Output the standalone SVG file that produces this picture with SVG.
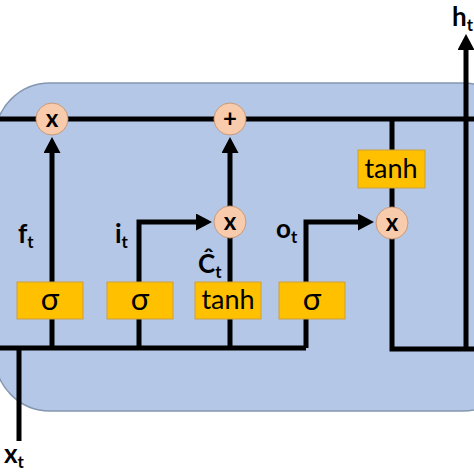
<svg xmlns="http://www.w3.org/2000/svg" width="474" height="474" viewBox="0 0 474 474">
<style>
.bg{fill:#b4c7e7;stroke:#8497b0;stroke-width:1.5}
.ln{fill:none;stroke:#000;stroke-width:5}
.op{fill:#f8cbad;stroke:#c99a78;stroke-width:1}
.bx{fill:#ffc000;stroke:#c9a040;stroke-width:1}
.ot{font-family:Lato,"Liberation Sans",sans-serif;font-weight:bold;font-size:24px;text-anchor:middle;fill:#000}
.bt{font-family:Lato,"Liberation Sans",sans-serif;font-size:27px;text-anchor:middle;fill:#000}
.sg{font-size:31px}
.lb{font-family:Lato,"Liberation Sans",sans-serif;font-weight:bold;font-size:26px;fill:#000}
.sb{font-size:17px}
</style>
<defs>
<marker id="ah" markerUnits="userSpaceOnUse" markerWidth="17" markerHeight="18" refX="1" refY="8.5" orient="auto">
<path d="M0,0 L16,8.5 L0,17 z" fill="#000"/>
</marker>
</defs>
<rect class="bg" x="-5" y="83" width="523" height="328" rx="55"/>
<g id="connectors">
<path class="ln" d="M0,119 H474"/>
<path class="ln" d="M19,441 V348"/>
<path class="ln" d="M0,348 H306"/>
<path class="ln" d="M52,348 V152" marker-end="url(#ah)"/>
<path class="ln" d="M139,348 V222 H197" marker-end="url(#ah)"/>
<path class="ln" d="M230,348 V222"/>
<path class="ln" d="M230,230 V152" marker-end="url(#ah)"/>
<path class="ln" d="M306,348 V222 H359" marker-end="url(#ah)"/>
<path class="ln" d="M392,119 V349 H474"/>
<path class="ln" d="M466,349 V49" marker-end="url(#ah)"/>
</g>
<g id="forget-mult"><circle class="op" cx="52" cy="119" r="16"/><text class="ot" x="52" y="127">x</text></g>
<g id="cell-add"><circle class="op" cx="230" cy="119" r="16"/><text class="ot" x="230" y="127">+</text></g>
<g id="input-mult"><circle class="op" cx="230" cy="222" r="16"/><text class="ot" x="230" y="230">x</text></g>
<g id="output-mult"><circle class="op" cx="392" cy="223" r="16"/><text class="ot" x="392" y="231">x</text></g>
<g id="forget-gate"><rect class="bx" x="17" y="282" width="66" height="37"/><text class="bt sg" x="50" y="310">σ</text></g>
<g id="input-gate"><rect class="bx" x="107" y="282" width="66" height="37"/><text class="bt sg" x="140" y="310">σ</text></g>
<g id="candidate"><rect class="bx" x="195" y="282" width="66" height="37"/><text class="bt" x="228" y="309">tanh</text></g>
<g id="output-gate"><rect class="bx" x="279" y="282" width="66" height="37"/><text class="bt sg" x="312" y="310">σ</text></g>
<g id="output-tanh"><rect class="bx" x="358" y="150" width="67" height="38"/><text class="bt" x="391" y="178">tanh</text></g>
<g id="labels">
<text class="lb" x="18" y="243">f<tspan class="sb" dy="5">t</tspan></text>
<text class="lb" x="115" y="243">i<tspan class="sb" dy="5">t</tspan></text>
<text class="lb" x="198" y="273">Ĉ<tspan class="sb" dy="5">t</tspan></text>
<text class="lb" x="276" y="238">o<tspan class="sb" dy="5">t</tspan></text>
<text class="lb" x="452" y="26">h<tspan class="sb" dy="5">t</tspan></text>
<text class="lb" x="4" y="463">x<tspan class="sb" dy="5">t</tspan></text>
</g>
</svg>
